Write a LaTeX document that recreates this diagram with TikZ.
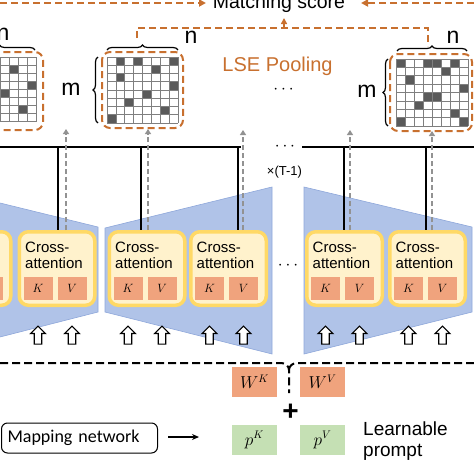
\documentclass[tikz,border=0pt]{standalone}
\usepackage{fontspec}
\setmainfont{Liberation Sans}
\newfontfamily\calib{Carlito}
\usetikzlibrary{arrows.meta,shapes.arrows,decorations.pathreplacing,calc}

\definecolor{trapfill}{HTML}{B0C3E8}
\definecolor{trapdraw}{HTML}{8EA7DA}
\definecolor{blkfill}{HTML}{FFF2CC}
\definecolor{blkdraw}{HTML}{FFD966}
\definecolor{kvfill}{HTML}{F0A37D}
\definecolor{pfill}{HTML}{C5E0B4}
\definecolor{orng}{HTML}{C8702F}
\definecolor{grarrow}{HTML}{929292}
\definecolor{cellfill}{HTML}{5A5A5A}
\definecolor{gridcol}{HTML}{7F7F7F}

\newcommand\mygrid[5]{%
  \fill[white] (#1,#2) rectangle ({#1+8*#3},{#2+8*#4});
  \foreach \rr/\cc in {#5}{\fill[cellfill] ({#1+\cc*#3},{#2+\rr*#4}) rectangle ++(#3,#4);}
  \foreach \ii in {0,...,8}{%
    \draw[gridcol, line width=0.8pt] ({#1+\ii*#3},#2) -- ({#1+\ii*#3},{#2+8*#4});
    \draw[gridcol, line width=0.8pt] (#1,{#2+\ii*#4}) -- ({#1+8*#3},{#2+\ii*#4});}
}

\begin{document}
\begin{tikzpicture}[x=1pt,y=-1pt,
  trap/.style={fill=trapfill, draw=trapdraw, line width=0.6pt},
  xblock/.style={draw=blkdraw, fill=blkfill, line width=3.5pt, rounded corners=9pt, minimum width=75.5pt, minimum height=73.5pt, inner sep=0pt},
  xtext/.style={font=\fontsize{15}{15}\selectfont, inner sep=0pt, anchor=base west},
  kvbox/.style={fill=kvfill, minimum width=29pt, minimum height=23pt, inner sep=0pt, font=\fontsize{13}{13}\selectfont},
  hollow/.style={shape=single arrow, draw=black, fill=white, line width=1.2pt, rotate=90, minimum height=18pt, inner sep=3.2pt, single arrow head extend=3.6pt, single arrow tip angle=90},
  grayarr/.style={draw=grarrow, line width=1.8pt, dash pattern=on 5pt off 3pt, -{Triangle[length=5pt,width=6pt]}},
  bus/.style={line width=1.8pt, draw=black},
  odash/.style={draw=orng, line width=2pt, dash pattern=on 7pt off 4pt},
  bdash/.style={draw=black, line width=2pt, dash pattern=on 8pt off 4pt},
  lbl/.style={font=\fontsize{23}{23}\selectfont, inner sep=0pt, anchor=base},
  brc/.style={decorate, decoration={brace, amplitude=5pt}, line width=1.2pt},
  wbox/.style={fill=kvfill, minimum width=45pt, minimum height=30pt, inner sep=0pt, font=\fontsize{16}{16}\selectfont},
  pbox/.style={fill=pfill, minimum width=45pt, minimum height=30pt, inner sep=0pt, font=\fontsize{16}{16}\selectfont},
  dotsl/.style={font=\fontsize{16}{16}\selectfont, inner sep=0pt}
]
\useasboundingbox (0,0) rectangle (474,474);
\clip (0,0) rectangle (474,474);

% top: matching score
\node[font=\fontsize{19.5}{19.5}\selectfont, anchor=base, inner sep=0pt] (ms) at (279,8) {Matching score};
\coordinate (msL) at (206,3);
\coordinate (msR) at (361,3);
\coordinate (topL) at (0,3);
\coordinate (topR) at (474,3);
\draw[odash,-{Triangle[length=7pt,width=7pt]}] (topL) -- (msL);
\draw[odash,-{Triangle[length=7pt,width=7pt]}] (topR) -- (msR);

% LSE pooling path
\coordinate (lse1) at (137,38);
\coordinate (lse2) at (137,28);
\coordinate (lse3) at (428,28);
\coordinate (lse4) at (428,46);
\coordinate (lseA) at (284,28);
\coordinate (lseB) at (284,18);
\draw[odash] (lse1) -- (lse2) -- (lse3) -- (lse4);
\draw[odash,-{Triangle[length=6pt,width=6pt]}] (lseA) -- (lseB);
\node[font=\fontsize{20}{20}\selectfont, text=orng, anchor=base, inner sep=0pt] (lse) at (277.5,71.5) {LSE Pooling};

% matrices
\mygrid{-36}{57}{9}{8.1}{0/2,1/5,2/0,3/7,4/4,5/1,6/6,7/3}
\mygrid{107}{57}{8.9}{8.25}{0/1,0/3,0/7,1/5,2/1,3/7,4/4,5/2,6/6,7/0}
\mygrid{396}{59}{9}{8.4}{0/0,0/3,0/4,0/6,1/5,2/1,3/7,4/3,4/4,5/2,6/6,7/0,7/7}
\draw[odash, rounded corners=8pt] (-40,52) rectangle (43,130);
\draw[odash, rounded corners=8pt] (102,52) rectangle (183,128);
\draw[odash, rounded corners=8pt] (390,54) rectangle (472,131);
\draw[brc] (-36,50) -- (35,50);
\draw[brc] (107,50) -- (178,50);
\draw[brc] (397,51) -- (467,51);
\draw[brc] (98,123) -- (98,57);
\draw[brc] (388,126) -- (388,59);
\node[lbl] (n1) at (3,40) {n};
\node[lbl] (n2) at (191,43) {n};
\node[lbl] (n3) at (453,43) {n};
\node[lbl] (m2) at (71,95) {m};
\node[lbl] (m3) at (367,97) {m};
\node[dotsl] (dots1) at (283.5,90) {$\cdots$};

% trapezoids
\draw[trap] (-100,178.5) -- (98,227) -- (98,312) -- (-100,362.5) -- cycle;
\draw[trap] (105,228) -- (272,187) -- (272,354) -- (105,312) -- cycle;
\draw[trap] (304,187) -- (472,227) -- (472,312) -- (304,354) -- cycle;

% blocks
\foreach \nm/\cx in {A/-27,B/57,C/147,D/228.5,E/344.5,F/427.5}{
  \node[xblock] (b\nm) at (\cx,268.5) {};
  \node[xtext] (c\nm) at (\cx-32,252) {Cross-};
  \node[xtext] (t\nm) at (\cx-32,268) {attention};
  \node[kvbox] (k\nm) at (\cx-19,288) {$K$};
  \node[kvbox] (v\nm) at (\cx+15,288) {$V$};
  \node[hollow] (ak\nm) at (\cx-19,337) {};
  \node[hollow] (av\nm) at (\cx+15,337) {};
}
\node[dotsl] (dots3) at (288,266) {$\cdots$};

% bus lines
\coordinate (busL0) at (0,147);
\coordinate (busL1) at (241,147);
\coordinate (busR0) at (302,147);
\coordinate (busR1) at (474,147);
\draw[bus] (busL0) -- (busL1);
\draw[bus] (busR0) -- (busR1);
\node[dotsl] (dots2) at (285,147) {$\cdots$};
\node[font=\fontsize{13}{13}\selectfont, inner sep=0pt] (tt) at (284.5,172) {×(T-1)};
\coordinate (tB) at (58,147);
\coordinate (tC) at (141,147);
\coordinate (tD) at (238,147);
\coordinate (tE) at (344,147);
\coordinate (tF) at (426,147);
\foreach \nm in {B,C,D,E,F}{\draw[bus] (t\nm) -- (t\nm |- b\nm.north);}
\coordinate (gB) at (66,129);
\coordinate (gC) at (148,129);
\coordinate (gD) at (243,130);
\coordinate (gE) at (350,130);
\coordinate (gF) at (432,131);
\foreach \nm in {B,C,D,E,F}{\draw[grayarr] (g\nm |- b\nm.north) -- (g\nm);}

% dashed separator
\coordinate (sepL) at (0,363);
\coordinate (sepR) at (474,363);
\coordinate (sepM) at (289,370);
\coordinate (sepD) at (289,393);
\draw[bdash] (sepL) -- (281,363) to[out=0,in=90] (sepM) -- (sepD);
\draw[bdash] (sepR) -- (297,363) to[out=180,in=90] (sepM);

% W and p boxes
\node[wbox] (wk) at (254.5,382) {$W^K$};
\node[wbox] (wv) at (322.5,382) {$W^V$};
\node[pbox] (pk) at (254.5,440) {$p^K$};
\node[pbox] (pv) at (322.5,440) {$p^V$};
\node[font=\bfseries\fontsize{28}{28}\selectfont, inner sep=0pt] (plus) at (290.5,412.5) {+};
\node[font=\fontsize{19}{19}\selectfont, inner sep=0pt, anchor=base west] (learn1) at (363,435) {Learnable};
\node[font=\fontsize{19}{19}\selectfont, inner sep=0pt, anchor=base west] (learn2) at (363,456) {prompt};

% mapping network
\node[draw, rounded corners=6pt, line width=1pt, minimum height=30pt, text width=144pt, align=left, inner xsep=6pt, inner ysep=0pt, anchor=west, font=\calib\fontsize{18}{18}\selectfont] (map) at (1,438) {Mapping network};
\coordinate (arrEnd) at (199,437);
\draw[line width=1.2pt, -{Stealth[length=7pt,width=6pt]}, shorten <=10pt] (map.east |- arrEnd) -- (arrEnd);
\end{tikzpicture}
\end{document}
